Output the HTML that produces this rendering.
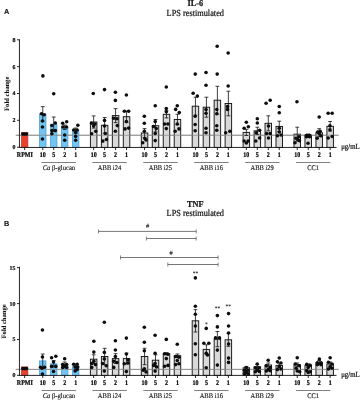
<!DOCTYPE html><html><head><meta charset="utf-8"><style>html,body{margin:0;padding:0;background:#fff;width:360px;height:400px;overflow:hidden}svg{display:block} text{text-rendering:geometricPrecision} .wrap{will-change:transform;opacity:0.999;filter:blur(0.3px)}</style></head><body>
<div class="wrap">
<svg width="360" height="400" viewBox="0 0 360 400">
<rect width="360" height="400" fill="#fff"/>
<line x1="15.80" y1="135.25" x2="338.50" y2="135.25" stroke="#8a8a8a" stroke-width="0.75"/>
<rect x="21.40" y="132.40" width="6.50" height="15.05" fill="#e8412f" stroke="#b8291c" stroke-width="0.6"/>
<rect x="39.50" y="113.90" width="6.50" height="33.55" fill="#74c4f2" stroke="#3d9ad8" stroke-width="0.7"/>
<rect x="50.47" y="124.20" width="6.50" height="23.25" fill="#74c4f2" stroke="#3d9ad8" stroke-width="0.7"/>
<rect x="61.44" y="127.20" width="6.50" height="20.25" fill="#74c4f2" stroke="#3d9ad8" stroke-width="0.7"/>
<rect x="72.41" y="130.50" width="6.50" height="16.95" fill="#74c4f2" stroke="#3d9ad8" stroke-width="0.7"/>
<rect x="90.40" y="122.00" width="6.50" height="25.45" fill="#d9d9d9" stroke="#151515" stroke-width="0.95"/>
<rect x="101.37" y="125.30" width="6.50" height="22.15" fill="#d9d9d9" stroke="#151515" stroke-width="0.95"/>
<rect x="112.34" y="115.60" width="6.50" height="31.85" fill="#d9d9d9" stroke="#151515" stroke-width="0.95"/>
<rect x="123.31" y="116.70" width="6.50" height="30.75" fill="#d9d9d9" stroke="#151515" stroke-width="0.95"/>
<rect x="141.30" y="133.00" width="6.50" height="14.45" fill="#d9d9d9" stroke="#151515" stroke-width="0.95"/>
<rect x="152.27" y="125.70" width="6.50" height="21.75" fill="#d9d9d9" stroke="#151515" stroke-width="0.95"/>
<rect x="163.24" y="114.30" width="6.50" height="33.15" fill="#d9d9d9" stroke="#151515" stroke-width="0.95"/>
<rect x="174.21" y="119.50" width="6.50" height="27.95" fill="#d9d9d9" stroke="#151515" stroke-width="0.95"/>
<rect x="192.20" y="106.20" width="6.50" height="41.25" fill="#d9d9d9" stroke="#151515" stroke-width="0.95"/>
<rect x="203.17" y="107.20" width="6.50" height="40.25" fill="#d9d9d9" stroke="#151515" stroke-width="0.95"/>
<rect x="214.14" y="100.20" width="6.50" height="47.25" fill="#d9d9d9" stroke="#151515" stroke-width="0.95"/>
<rect x="225.11" y="103.50" width="6.50" height="43.95" fill="#d9d9d9" stroke="#151515" stroke-width="0.95"/>
<rect x="243.10" y="132.40" width="6.50" height="15.05" fill="#d9d9d9" stroke="#151515" stroke-width="0.95"/>
<rect x="254.07" y="130.80" width="6.50" height="16.65" fill="#d9d9d9" stroke="#151515" stroke-width="0.95"/>
<rect x="265.04" y="123.30" width="6.50" height="24.15" fill="#d9d9d9" stroke="#151515" stroke-width="0.95"/>
<rect x="276.01" y="126.40" width="6.50" height="21.05" fill="#d9d9d9" stroke="#151515" stroke-width="0.95"/>
<rect x="294.00" y="134.20" width="6.50" height="13.25" fill="#d9d9d9" stroke="#151515" stroke-width="0.95"/>
<rect x="304.97" y="135.00" width="6.50" height="12.45" fill="#d9d9d9" stroke="#151515" stroke-width="0.95"/>
<rect x="315.94" y="132.70" width="6.50" height="14.75" fill="#d9d9d9" stroke="#151515" stroke-width="0.95"/>
<rect x="326.91" y="126.30" width="6.50" height="21.15" fill="#d9d9d9" stroke="#151515" stroke-width="0.95"/>
<line x1="15.80" y1="135.25" x2="338.50" y2="135.25" stroke="#8a8a8a" stroke-width="0.75"/>
<line x1="42.75" y1="106.60" x2="42.75" y2="121.20" stroke="#111" stroke-width="0.8"/>
<line x1="40.85" y1="106.60" x2="44.65" y2="106.60" stroke="#111" stroke-width="0.8"/>
<line x1="40.85" y1="121.20" x2="44.65" y2="121.20" stroke="#111" stroke-width="0.8"/>
<line x1="53.72" y1="117.00" x2="53.72" y2="131.40" stroke="#111" stroke-width="0.8"/>
<line x1="51.82" y1="117.00" x2="55.62" y2="117.00" stroke="#111" stroke-width="0.8"/>
<line x1="51.82" y1="131.40" x2="55.62" y2="131.40" stroke="#111" stroke-width="0.8"/>
<line x1="64.69" y1="125.00" x2="64.69" y2="129.40" stroke="#111" stroke-width="0.8"/>
<line x1="62.79" y1="125.00" x2="66.59" y2="125.00" stroke="#111" stroke-width="0.8"/>
<line x1="62.79" y1="129.40" x2="66.59" y2="129.40" stroke="#111" stroke-width="0.8"/>
<line x1="75.66" y1="128.00" x2="75.66" y2="133.00" stroke="#111" stroke-width="0.8"/>
<line x1="73.76" y1="128.00" x2="77.56" y2="128.00" stroke="#111" stroke-width="0.8"/>
<line x1="73.76" y1="133.00" x2="77.56" y2="133.00" stroke="#111" stroke-width="0.8"/>
<line x1="93.65" y1="115.90" x2="93.65" y2="128.10" stroke="#111" stroke-width="0.8"/>
<line x1="91.75" y1="115.90" x2="95.55" y2="115.90" stroke="#111" stroke-width="0.8"/>
<line x1="91.75" y1="128.10" x2="95.55" y2="128.10" stroke="#111" stroke-width="0.8"/>
<line x1="104.62" y1="117.50" x2="104.62" y2="133.10" stroke="#111" stroke-width="0.8"/>
<line x1="102.72" y1="117.50" x2="106.52" y2="117.50" stroke="#111" stroke-width="0.8"/>
<line x1="102.72" y1="133.10" x2="106.52" y2="133.10" stroke="#111" stroke-width="0.8"/>
<line x1="115.59" y1="108.60" x2="115.59" y2="122.60" stroke="#111" stroke-width="0.8"/>
<line x1="113.69" y1="108.60" x2="117.49" y2="108.60" stroke="#111" stroke-width="0.8"/>
<line x1="113.69" y1="122.60" x2="117.49" y2="122.60" stroke="#111" stroke-width="0.8"/>
<line x1="126.56" y1="111.00" x2="126.56" y2="122.40" stroke="#111" stroke-width="0.8"/>
<line x1="124.66" y1="111.00" x2="128.46" y2="111.00" stroke="#111" stroke-width="0.8"/>
<line x1="124.66" y1="122.40" x2="128.46" y2="122.40" stroke="#111" stroke-width="0.8"/>
<line x1="144.55" y1="128.60" x2="144.55" y2="137.40" stroke="#111" stroke-width="0.8"/>
<line x1="142.65" y1="128.60" x2="146.45" y2="128.60" stroke="#111" stroke-width="0.8"/>
<line x1="142.65" y1="137.40" x2="146.45" y2="137.40" stroke="#111" stroke-width="0.8"/>
<line x1="155.52" y1="119.50" x2="155.52" y2="131.90" stroke="#111" stroke-width="0.8"/>
<line x1="153.62" y1="119.50" x2="157.42" y2="119.50" stroke="#111" stroke-width="0.8"/>
<line x1="153.62" y1="131.90" x2="157.42" y2="131.90" stroke="#111" stroke-width="0.8"/>
<line x1="166.49" y1="110.70" x2="166.49" y2="117.90" stroke="#111" stroke-width="0.8"/>
<line x1="164.59" y1="110.70" x2="168.39" y2="110.70" stroke="#111" stroke-width="0.8"/>
<line x1="164.59" y1="117.90" x2="168.39" y2="117.90" stroke="#111" stroke-width="0.8"/>
<line x1="177.46" y1="114.30" x2="177.46" y2="124.70" stroke="#111" stroke-width="0.8"/>
<line x1="175.56" y1="114.30" x2="179.36" y2="114.30" stroke="#111" stroke-width="0.8"/>
<line x1="175.56" y1="124.70" x2="179.36" y2="124.70" stroke="#111" stroke-width="0.8"/>
<line x1="195.45" y1="97.20" x2="195.45" y2="115.20" stroke="#111" stroke-width="0.8"/>
<line x1="193.55" y1="97.20" x2="197.35" y2="97.20" stroke="#111" stroke-width="0.8"/>
<line x1="193.55" y1="115.20" x2="197.35" y2="115.20" stroke="#111" stroke-width="0.8"/>
<line x1="206.42" y1="97.20" x2="206.42" y2="117.20" stroke="#111" stroke-width="0.8"/>
<line x1="204.52" y1="97.20" x2="208.32" y2="97.20" stroke="#111" stroke-width="0.8"/>
<line x1="204.52" y1="117.20" x2="208.32" y2="117.20" stroke="#111" stroke-width="0.8"/>
<line x1="217.39" y1="86.30" x2="217.39" y2="114.10" stroke="#111" stroke-width="0.8"/>
<line x1="215.49" y1="86.30" x2="219.29" y2="86.30" stroke="#111" stroke-width="0.8"/>
<line x1="215.49" y1="114.10" x2="219.29" y2="114.10" stroke="#111" stroke-width="0.8"/>
<line x1="228.36" y1="91.20" x2="228.36" y2="115.80" stroke="#111" stroke-width="0.8"/>
<line x1="226.46" y1="91.20" x2="230.26" y2="91.20" stroke="#111" stroke-width="0.8"/>
<line x1="226.46" y1="115.80" x2="230.26" y2="115.80" stroke="#111" stroke-width="0.8"/>
<line x1="246.35" y1="129.30" x2="246.35" y2="135.50" stroke="#111" stroke-width="0.8"/>
<line x1="244.45" y1="129.30" x2="248.25" y2="129.30" stroke="#111" stroke-width="0.8"/>
<line x1="244.45" y1="135.50" x2="248.25" y2="135.50" stroke="#111" stroke-width="0.8"/>
<line x1="257.32" y1="127.20" x2="257.32" y2="134.40" stroke="#111" stroke-width="0.8"/>
<line x1="255.42" y1="127.20" x2="259.22" y2="127.20" stroke="#111" stroke-width="0.8"/>
<line x1="255.42" y1="134.40" x2="259.22" y2="134.40" stroke="#111" stroke-width="0.8"/>
<line x1="268.29" y1="115.80" x2="268.29" y2="130.80" stroke="#111" stroke-width="0.8"/>
<line x1="266.39" y1="115.80" x2="270.19" y2="115.80" stroke="#111" stroke-width="0.8"/>
<line x1="266.39" y1="130.80" x2="270.19" y2="130.80" stroke="#111" stroke-width="0.8"/>
<line x1="279.26" y1="121.20" x2="279.26" y2="131.60" stroke="#111" stroke-width="0.8"/>
<line x1="277.36" y1="121.20" x2="281.16" y2="121.20" stroke="#111" stroke-width="0.8"/>
<line x1="277.36" y1="131.60" x2="281.16" y2="131.60" stroke="#111" stroke-width="0.8"/>
<line x1="297.25" y1="127.20" x2="297.25" y2="141.20" stroke="#111" stroke-width="0.8"/>
<line x1="295.35" y1="127.20" x2="299.15" y2="127.20" stroke="#111" stroke-width="0.8"/>
<line x1="295.35" y1="141.20" x2="299.15" y2="141.20" stroke="#111" stroke-width="0.8"/>
<line x1="308.22" y1="134.00" x2="308.22" y2="136.00" stroke="#111" stroke-width="0.8"/>
<line x1="306.32" y1="134.00" x2="310.12" y2="134.00" stroke="#111" stroke-width="0.8"/>
<line x1="306.32" y1="136.00" x2="310.12" y2="136.00" stroke="#111" stroke-width="0.8"/>
<line x1="319.19" y1="128.70" x2="319.19" y2="136.70" stroke="#111" stroke-width="0.8"/>
<line x1="317.29" y1="128.70" x2="321.09" y2="128.70" stroke="#111" stroke-width="0.8"/>
<line x1="317.29" y1="136.70" x2="321.09" y2="136.70" stroke="#111" stroke-width="0.8"/>
<line x1="330.16" y1="121.50" x2="330.16" y2="131.10" stroke="#111" stroke-width="0.8"/>
<line x1="328.26" y1="121.50" x2="332.06" y2="121.50" stroke="#111" stroke-width="0.8"/>
<line x1="328.26" y1="131.10" x2="332.06" y2="131.10" stroke="#111" stroke-width="0.8"/>
<circle cx="22.85" cy="134.10" r="1.8" fill="#0d0d0d"/>
<circle cx="24.65" cy="134.10" r="1.8" fill="#0d0d0d"/>
<circle cx="26.45" cy="134.10" r="1.8" fill="#0d0d0d"/>
<circle cx="42.90" cy="75.90" r="1.8" fill="#0d0d0d"/>
<circle cx="41.55" cy="113.80" r="1.8" fill="#0d0d0d"/>
<circle cx="44.15" cy="114.70" r="1.8" fill="#0d0d0d"/>
<circle cx="42.45" cy="121.00" r="1.8" fill="#0d0d0d"/>
<circle cx="42.45" cy="127.00" r="1.8" fill="#0d0d0d"/>
<circle cx="42.45" cy="139.00" r="1.8" fill="#0d0d0d"/>
<circle cx="53.72" cy="93.70" r="1.8" fill="#0d0d0d"/>
<circle cx="51.92" cy="125.50" r="1.8" fill="#0d0d0d"/>
<circle cx="55.32" cy="123.00" r="1.8" fill="#0d0d0d"/>
<circle cx="51.92" cy="130.60" r="1.8" fill="#0d0d0d"/>
<circle cx="55.32" cy="130.60" r="1.8" fill="#0d0d0d"/>
<circle cx="51.92" cy="133.80" r="1.8" fill="#0d0d0d"/>
<circle cx="62.69" cy="123.30" r="1.8" fill="#0d0d0d"/>
<circle cx="66.69" cy="121.70" r="1.8" fill="#0d0d0d"/>
<circle cx="62.89" cy="127.00" r="1.8" fill="#0d0d0d"/>
<circle cx="66.49" cy="127.00" r="1.8" fill="#0d0d0d"/>
<circle cx="64.69" cy="135.00" r="1.8" fill="#0d0d0d"/>
<circle cx="64.69" cy="140.20" r="1.8" fill="#0d0d0d"/>
<circle cx="73.76" cy="130.00" r="1.8" fill="#0d0d0d"/>
<circle cx="77.86" cy="125.30" r="1.8" fill="#0d0d0d"/>
<circle cx="77.16" cy="130.00" r="1.8" fill="#0d0d0d"/>
<circle cx="75.66" cy="132.60" r="1.8" fill="#0d0d0d"/>
<circle cx="75.66" cy="136.40" r="1.8" fill="#0d0d0d"/>
<circle cx="75.66" cy="140.20" r="1.8" fill="#0d0d0d"/>
<circle cx="93.25" cy="93.50" r="1.8" fill="#0d0d0d"/>
<circle cx="91.65" cy="123.20" r="1.8" fill="#0d0d0d"/>
<circle cx="94.95" cy="124.00" r="1.8" fill="#0d0d0d"/>
<circle cx="95.75" cy="131.30" r="1.8" fill="#0d0d0d"/>
<circle cx="91.65" cy="133.80" r="1.8" fill="#0d0d0d"/>
<circle cx="93.65" cy="126.00" r="1.8" fill="#0d0d0d"/>
<circle cx="104.52" cy="89.60" r="1.8" fill="#0d0d0d"/>
<circle cx="104.52" cy="120.40" r="1.8" fill="#0d0d0d"/>
<circle cx="105.32" cy="133.50" r="1.8" fill="#0d0d0d"/>
<circle cx="102.82" cy="141.10" r="1.8" fill="#0d0d0d"/>
<circle cx="106.42" cy="139.50" r="1.8" fill="#0d0d0d"/>
<circle cx="104.52" cy="126.00" r="1.8" fill="#0d0d0d"/>
<circle cx="115.39" cy="92.30" r="1.8" fill="#0d0d0d"/>
<circle cx="115.39" cy="100.40" r="1.8" fill="#0d0d0d"/>
<circle cx="113.69" cy="118.30" r="1.8" fill="#0d0d0d"/>
<circle cx="116.99" cy="118.80" r="1.8" fill="#0d0d0d"/>
<circle cx="117.29" cy="125.60" r="1.8" fill="#0d0d0d"/>
<circle cx="115.39" cy="131.30" r="1.8" fill="#0d0d0d"/>
<circle cx="126.36" cy="95.00" r="1.8" fill="#0d0d0d"/>
<circle cx="124.36" cy="111.30" r="1.8" fill="#0d0d0d"/>
<circle cx="128.66" cy="111.30" r="1.8" fill="#0d0d0d"/>
<circle cx="126.36" cy="121.60" r="1.8" fill="#0d0d0d"/>
<circle cx="125.06" cy="128.90" r="1.8" fill="#0d0d0d"/>
<circle cx="128.66" cy="128.10" r="1.8" fill="#0d0d0d"/>
<circle cx="144.35" cy="116.20" r="1.8" fill="#0d0d0d"/>
<circle cx="144.35" cy="123.20" r="1.8" fill="#0d0d0d"/>
<circle cx="144.35" cy="131.30" r="1.8" fill="#0d0d0d"/>
<circle cx="146.05" cy="140.00" r="1.8" fill="#0d0d0d"/>
<circle cx="142.75" cy="142.70" r="1.8" fill="#0d0d0d"/>
<circle cx="144.85" cy="138.50" r="1.8" fill="#0d0d0d"/>
<circle cx="155.22" cy="105.80" r="1.8" fill="#0d0d0d"/>
<circle cx="155.22" cy="121.60" r="1.8" fill="#0d0d0d"/>
<circle cx="156.22" cy="128.60" r="1.8" fill="#0d0d0d"/>
<circle cx="155.22" cy="133.50" r="1.8" fill="#0d0d0d"/>
<circle cx="155.22" cy="140.60" r="1.8" fill="#0d0d0d"/>
<circle cx="153.52" cy="126.50" r="1.8" fill="#0d0d0d"/>
<circle cx="166.29" cy="87.00" r="1.8" fill="#0d0d0d"/>
<circle cx="166.29" cy="108.60" r="1.8" fill="#0d0d0d"/>
<circle cx="166.29" cy="111.80" r="1.8" fill="#0d0d0d"/>
<circle cx="164.59" cy="124.00" r="1.8" fill="#0d0d0d"/>
<circle cx="167.89" cy="124.00" r="1.8" fill="#0d0d0d"/>
<circle cx="166.29" cy="128.60" r="1.8" fill="#0d0d0d"/>
<circle cx="177.26" cy="105.80" r="1.8" fill="#0d0d0d"/>
<circle cx="175.66" cy="109.40" r="1.8" fill="#0d0d0d"/>
<circle cx="179.26" cy="112.60" r="1.8" fill="#0d0d0d"/>
<circle cx="177.26" cy="124.00" r="1.8" fill="#0d0d0d"/>
<circle cx="175.16" cy="131.30" r="1.8" fill="#0d0d0d"/>
<circle cx="178.96" cy="128.90" r="1.8" fill="#0d0d0d"/>
<circle cx="195.25" cy="74.10" r="1.8" fill="#0d0d0d"/>
<circle cx="193.15" cy="93.20" r="1.8" fill="#0d0d0d"/>
<circle cx="197.35" cy="96.10" r="1.8" fill="#0d0d0d"/>
<circle cx="195.15" cy="116.20" r="1.8" fill="#0d0d0d"/>
<circle cx="195.15" cy="124.50" r="1.8" fill="#0d0d0d"/>
<circle cx="195.15" cy="130.80" r="1.8" fill="#0d0d0d"/>
<circle cx="206.02" cy="72.50" r="1.8" fill="#0d0d0d"/>
<circle cx="206.02" cy="85.20" r="1.8" fill="#0d0d0d"/>
<circle cx="206.02" cy="109.50" r="1.8" fill="#0d0d0d"/>
<circle cx="206.02" cy="113.20" r="1.8" fill="#0d0d0d"/>
<circle cx="206.02" cy="128.20" r="1.8" fill="#0d0d0d"/>
<circle cx="206.02" cy="132.70" r="1.8" fill="#0d0d0d"/>
<circle cx="217.19" cy="46.20" r="1.8" fill="#0d0d0d"/>
<circle cx="217.19" cy="74.10" r="1.8" fill="#0d0d0d"/>
<circle cx="216.79" cy="109.50" r="1.8" fill="#0d0d0d"/>
<circle cx="216.79" cy="113.70" r="1.8" fill="#0d0d0d"/>
<circle cx="216.79" cy="125.70" r="1.8" fill="#0d0d0d"/>
<circle cx="216.79" cy="130.20" r="1.8" fill="#0d0d0d"/>
<circle cx="228.16" cy="53.00" r="1.8" fill="#0d0d0d"/>
<circle cx="228.16" cy="86.00" r="1.8" fill="#0d0d0d"/>
<circle cx="227.56" cy="106.50" r="1.8" fill="#0d0d0d"/>
<circle cx="227.56" cy="109.50" r="1.8" fill="#0d0d0d"/>
<circle cx="225.66" cy="132.70" r="1.8" fill="#0d0d0d"/>
<circle cx="229.86" cy="131.20" r="1.8" fill="#0d0d0d"/>
<circle cx="246.35" cy="122.20" r="1.8" fill="#0d0d0d"/>
<circle cx="244.15" cy="128.20" r="1.8" fill="#0d0d0d"/>
<circle cx="248.35" cy="126.70" r="1.8" fill="#0d0d0d"/>
<circle cx="244.15" cy="141.00" r="1.8" fill="#0d0d0d"/>
<circle cx="248.15" cy="141.00" r="1.8" fill="#0d0d0d"/>
<circle cx="246.35" cy="143.00" r="1.8" fill="#0d0d0d"/>
<circle cx="257.32" cy="118.80" r="1.8" fill="#0d0d0d"/>
<circle cx="257.32" cy="123.00" r="1.8" fill="#0d0d0d"/>
<circle cx="256.32" cy="132.70" r="1.8" fill="#0d0d0d"/>
<circle cx="259.62" cy="130.20" r="1.8" fill="#0d0d0d"/>
<circle cx="259.62" cy="138.00" r="1.8" fill="#0d0d0d"/>
<circle cx="255.82" cy="141.00" r="1.8" fill="#0d0d0d"/>
<circle cx="266.09" cy="103.20" r="1.8" fill="#0d0d0d"/>
<circle cx="270.19" cy="100.20" r="1.8" fill="#0d0d0d"/>
<circle cx="268.49" cy="126.00" r="1.8" fill="#0d0d0d"/>
<circle cx="266.59" cy="133.50" r="1.8" fill="#0d0d0d"/>
<circle cx="270.09" cy="133.50" r="1.8" fill="#0d0d0d"/>
<circle cx="268.49" cy="138.00" r="1.8" fill="#0d0d0d"/>
<circle cx="279.26" cy="106.50" r="1.8" fill="#0d0d0d"/>
<circle cx="279.26" cy="112.80" r="1.8" fill="#0d0d0d"/>
<circle cx="279.26" cy="128.20" r="1.8" fill="#0d0d0d"/>
<circle cx="277.46" cy="135.70" r="1.8" fill="#0d0d0d"/>
<circle cx="281.06" cy="135.00" r="1.8" fill="#0d0d0d"/>
<circle cx="279.26" cy="132.00" r="1.8" fill="#0d0d0d"/>
<circle cx="296.95" cy="101.70" r="1.8" fill="#0d0d0d"/>
<circle cx="295.95" cy="138.30" r="1.8" fill="#0d0d0d"/>
<circle cx="298.95" cy="136.70" r="1.8" fill="#0d0d0d"/>
<circle cx="299.45" cy="140.70" r="1.8" fill="#0d0d0d"/>
<circle cx="294.95" cy="142.70" r="1.8" fill="#0d0d0d"/>
<circle cx="297.75" cy="139.50" r="1.8" fill="#0d0d0d"/>
<circle cx="306.52" cy="136.80" r="1.8" fill="#0d0d0d"/>
<circle cx="309.52" cy="136.80" r="1.8" fill="#0d0d0d"/>
<circle cx="308.02" cy="143.20" r="1.8" fill="#0d0d0d"/>
<circle cx="308.02" cy="135.70" r="1.8" fill="#0d0d0d"/>
<circle cx="306.52" cy="135.50" r="1.8" fill="#0d0d0d"/>
<circle cx="309.52" cy="135.50" r="1.8" fill="#0d0d0d"/>
<circle cx="319.19" cy="117.00" r="1.8" fill="#0d0d0d"/>
<circle cx="320.19" cy="131.20" r="1.8" fill="#0d0d0d"/>
<circle cx="317.19" cy="138.30" r="1.8" fill="#0d0d0d"/>
<circle cx="320.99" cy="135.70" r="1.8" fill="#0d0d0d"/>
<circle cx="319.19" cy="133.50" r="1.8" fill="#0d0d0d"/>
<circle cx="317.69" cy="132.00" r="1.8" fill="#0d0d0d"/>
<circle cx="328.16" cy="113.20" r="1.8" fill="#0d0d0d"/>
<circle cx="332.16" cy="113.20" r="1.8" fill="#0d0d0d"/>
<circle cx="329.96" cy="125.70" r="1.8" fill="#0d0d0d"/>
<circle cx="329.96" cy="129.70" r="1.8" fill="#0d0d0d"/>
<circle cx="328.16" cy="138.00" r="1.8" fill="#0d0d0d"/>
<circle cx="332.16" cy="136.50" r="1.8" fill="#0d0d0d"/>
<line x1="19.45" y1="39.25" x2="19.45" y2="147.95" stroke="#1a1a1a" stroke-width="0.95"/>
<line x1="18.95" y1="147.45" x2="336.50" y2="147.45" stroke="#1a1a1a" stroke-width="0.95"/>
<line x1="17.00" y1="39.80" x2="19.45" y2="39.80" stroke="#111" stroke-width="0.9"/>
<text x="15.50" y="41.75" font-family='"Liberation Serif", serif' font-size="5.9" font-weight="bold" font-style="normal" text-anchor="end" fill="#111" stroke="#111" stroke-width="0.22" >8</text>
<line x1="17.00" y1="66.60" x2="19.45" y2="66.60" stroke="#111" stroke-width="0.9"/>
<text x="15.50" y="68.55" font-family='"Liberation Serif", serif' font-size="5.9" font-weight="bold" font-style="normal" text-anchor="end" fill="#111" stroke="#111" stroke-width="0.22" >6</text>
<line x1="17.00" y1="93.50" x2="19.45" y2="93.50" stroke="#111" stroke-width="0.9"/>
<text x="15.50" y="95.45" font-family='"Liberation Serif", serif' font-size="5.9" font-weight="bold" font-style="normal" text-anchor="end" fill="#111" stroke="#111" stroke-width="0.22" >4</text>
<line x1="17.00" y1="120.30" x2="19.45" y2="120.30" stroke="#111" stroke-width="0.9"/>
<text x="15.50" y="122.25" font-family='"Liberation Serif", serif' font-size="5.9" font-weight="bold" font-style="normal" text-anchor="end" fill="#111" stroke="#111" stroke-width="0.22" >2</text>
<line x1="17.00" y1="147.20" x2="19.45" y2="147.20" stroke="#111" stroke-width="0.9"/>
<text x="15.50" y="149.15" font-family='"Liberation Serif", serif' font-size="5.9" font-weight="bold" font-style="normal" text-anchor="end" fill="#111" stroke="#111" stroke-width="0.22" >0</text>
<line x1="42.75" y1="147.45" x2="42.75" y2="150.05" stroke="#111" stroke-width="0.9"/>
<line x1="53.72" y1="147.45" x2="53.72" y2="150.05" stroke="#111" stroke-width="0.9"/>
<line x1="64.69" y1="147.45" x2="64.69" y2="150.05" stroke="#111" stroke-width="0.9"/>
<line x1="75.66" y1="147.45" x2="75.66" y2="150.05" stroke="#111" stroke-width="0.9"/>
<line x1="93.65" y1="147.45" x2="93.65" y2="150.05" stroke="#111" stroke-width="0.9"/>
<line x1="104.62" y1="147.45" x2="104.62" y2="150.05" stroke="#111" stroke-width="0.9"/>
<line x1="115.59" y1="147.45" x2="115.59" y2="150.05" stroke="#111" stroke-width="0.9"/>
<line x1="126.56" y1="147.45" x2="126.56" y2="150.05" stroke="#111" stroke-width="0.9"/>
<line x1="144.55" y1="147.45" x2="144.55" y2="150.05" stroke="#111" stroke-width="0.9"/>
<line x1="155.52" y1="147.45" x2="155.52" y2="150.05" stroke="#111" stroke-width="0.9"/>
<line x1="166.49" y1="147.45" x2="166.49" y2="150.05" stroke="#111" stroke-width="0.9"/>
<line x1="177.46" y1="147.45" x2="177.46" y2="150.05" stroke="#111" stroke-width="0.9"/>
<line x1="195.45" y1="147.45" x2="195.45" y2="150.05" stroke="#111" stroke-width="0.9"/>
<line x1="206.42" y1="147.45" x2="206.42" y2="150.05" stroke="#111" stroke-width="0.9"/>
<line x1="217.39" y1="147.45" x2="217.39" y2="150.05" stroke="#111" stroke-width="0.9"/>
<line x1="228.36" y1="147.45" x2="228.36" y2="150.05" stroke="#111" stroke-width="0.9"/>
<line x1="246.35" y1="147.45" x2="246.35" y2="150.05" stroke="#111" stroke-width="0.9"/>
<line x1="257.32" y1="147.45" x2="257.32" y2="150.05" stroke="#111" stroke-width="0.9"/>
<line x1="268.29" y1="147.45" x2="268.29" y2="150.05" stroke="#111" stroke-width="0.9"/>
<line x1="279.26" y1="147.45" x2="279.26" y2="150.05" stroke="#111" stroke-width="0.9"/>
<line x1="297.25" y1="147.45" x2="297.25" y2="150.05" stroke="#111" stroke-width="0.9"/>
<line x1="308.22" y1="147.45" x2="308.22" y2="150.05" stroke="#111" stroke-width="0.9"/>
<line x1="319.19" y1="147.45" x2="319.19" y2="150.05" stroke="#111" stroke-width="0.9"/>
<line x1="330.16" y1="147.45" x2="330.16" y2="150.05" stroke="#111" stroke-width="0.9"/>
<line x1="24.65" y1="147.45" x2="24.65" y2="150.05" stroke="#111" stroke-width="0.9"/>
<text x="0.00" y="0.00" font-family='"Liberation Serif", serif' font-size="6" font-weight="bold" font-style="normal" text-anchor="middle" fill="#000" stroke="#000" stroke-width="0.18" transform="translate(24.85,156.80) scale(1,1.2)">RPMI</text>
<text x="0.00" y="0.00" font-family='"Liberation Serif", serif' font-size="6" font-weight="bold" font-style="normal" text-anchor="middle" fill="#000" stroke="#000" stroke-width="0.18" transform="translate(42.75,156.80) scale(1,1.2)">10</text>
<text x="0.00" y="0.00" font-family='"Liberation Serif", serif' font-size="6" font-weight="bold" font-style="normal" text-anchor="middle" fill="#000" stroke="#000" stroke-width="0.18" transform="translate(53.72,156.80) scale(1,1.2)">5</text>
<text x="0.00" y="0.00" font-family='"Liberation Serif", serif' font-size="6" font-weight="bold" font-style="normal" text-anchor="middle" fill="#000" stroke="#000" stroke-width="0.18" transform="translate(64.69,156.80) scale(1,1.2)">2</text>
<text x="0.00" y="0.00" font-family='"Liberation Serif", serif' font-size="6" font-weight="bold" font-style="normal" text-anchor="middle" fill="#000" stroke="#000" stroke-width="0.18" transform="translate(75.66,156.80) scale(1,1.2)">1</text>
<text x="0.00" y="0.00" font-family='"Liberation Serif", serif' font-size="6" font-weight="bold" font-style="normal" text-anchor="middle" fill="#000" stroke="#000" stroke-width="0.18" transform="translate(93.65,156.80) scale(1,1.2)">10</text>
<text x="0.00" y="0.00" font-family='"Liberation Serif", serif' font-size="6" font-weight="bold" font-style="normal" text-anchor="middle" fill="#000" stroke="#000" stroke-width="0.18" transform="translate(104.62,156.80) scale(1,1.2)">5</text>
<text x="0.00" y="0.00" font-family='"Liberation Serif", serif' font-size="6" font-weight="bold" font-style="normal" text-anchor="middle" fill="#000" stroke="#000" stroke-width="0.18" transform="translate(115.59,156.80) scale(1,1.2)">2</text>
<text x="0.00" y="0.00" font-family='"Liberation Serif", serif' font-size="6" font-weight="bold" font-style="normal" text-anchor="middle" fill="#000" stroke="#000" stroke-width="0.18" transform="translate(126.56,156.80) scale(1,1.2)">1</text>
<text x="0.00" y="0.00" font-family='"Liberation Serif", serif' font-size="6" font-weight="bold" font-style="normal" text-anchor="middle" fill="#000" stroke="#000" stroke-width="0.18" transform="translate(144.55,156.80) scale(1,1.2)">10</text>
<text x="0.00" y="0.00" font-family='"Liberation Serif", serif' font-size="6" font-weight="bold" font-style="normal" text-anchor="middle" fill="#000" stroke="#000" stroke-width="0.18" transform="translate(155.52,156.80) scale(1,1.2)">5</text>
<text x="0.00" y="0.00" font-family='"Liberation Serif", serif' font-size="6" font-weight="bold" font-style="normal" text-anchor="middle" fill="#000" stroke="#000" stroke-width="0.18" transform="translate(166.49,156.80) scale(1,1.2)">2</text>
<text x="0.00" y="0.00" font-family='"Liberation Serif", serif' font-size="6" font-weight="bold" font-style="normal" text-anchor="middle" fill="#000" stroke="#000" stroke-width="0.18" transform="translate(177.46,156.80) scale(1,1.2)">1</text>
<text x="0.00" y="0.00" font-family='"Liberation Serif", serif' font-size="6" font-weight="bold" font-style="normal" text-anchor="middle" fill="#000" stroke="#000" stroke-width="0.18" transform="translate(195.45,156.80) scale(1,1.2)">10</text>
<text x="0.00" y="0.00" font-family='"Liberation Serif", serif' font-size="6" font-weight="bold" font-style="normal" text-anchor="middle" fill="#000" stroke="#000" stroke-width="0.18" transform="translate(206.42,156.80) scale(1,1.2)">5</text>
<text x="0.00" y="0.00" font-family='"Liberation Serif", serif' font-size="6" font-weight="bold" font-style="normal" text-anchor="middle" fill="#000" stroke="#000" stroke-width="0.18" transform="translate(217.39,156.80) scale(1,1.2)">2</text>
<text x="0.00" y="0.00" font-family='"Liberation Serif", serif' font-size="6" font-weight="bold" font-style="normal" text-anchor="middle" fill="#000" stroke="#000" stroke-width="0.18" transform="translate(228.36,156.80) scale(1,1.2)">1</text>
<text x="0.00" y="0.00" font-family='"Liberation Serif", serif' font-size="6" font-weight="bold" font-style="normal" text-anchor="middle" fill="#000" stroke="#000" stroke-width="0.18" transform="translate(246.35,156.80) scale(1,1.2)">10</text>
<text x="0.00" y="0.00" font-family='"Liberation Serif", serif' font-size="6" font-weight="bold" font-style="normal" text-anchor="middle" fill="#000" stroke="#000" stroke-width="0.18" transform="translate(257.32,156.80) scale(1,1.2)">5</text>
<text x="0.00" y="0.00" font-family='"Liberation Serif", serif' font-size="6" font-weight="bold" font-style="normal" text-anchor="middle" fill="#000" stroke="#000" stroke-width="0.18" transform="translate(268.29,156.80) scale(1,1.2)">2</text>
<text x="0.00" y="0.00" font-family='"Liberation Serif", serif' font-size="6" font-weight="bold" font-style="normal" text-anchor="middle" fill="#000" stroke="#000" stroke-width="0.18" transform="translate(279.26,156.80) scale(1,1.2)">1</text>
<text x="0.00" y="0.00" font-family='"Liberation Serif", serif' font-size="6" font-weight="bold" font-style="normal" text-anchor="middle" fill="#000" stroke="#000" stroke-width="0.18" transform="translate(297.25,156.80) scale(1,1.2)">10</text>
<text x="0.00" y="0.00" font-family='"Liberation Serif", serif' font-size="6" font-weight="bold" font-style="normal" text-anchor="middle" fill="#000" stroke="#000" stroke-width="0.18" transform="translate(308.22,156.80) scale(1,1.2)">5</text>
<text x="0.00" y="0.00" font-family='"Liberation Serif", serif' font-size="6" font-weight="bold" font-style="normal" text-anchor="middle" fill="#000" stroke="#000" stroke-width="0.18" transform="translate(319.19,156.80) scale(1,1.2)">2</text>
<text x="0.00" y="0.00" font-family='"Liberation Serif", serif' font-size="6" font-weight="bold" font-style="normal" text-anchor="middle" fill="#000" stroke="#000" stroke-width="0.18" transform="translate(330.16,156.80) scale(1,1.2)">1</text>
<line x1="41.50" y1="162.50" x2="75.91" y2="162.50" stroke="#4a4a4a" stroke-width="0.7"/>
<text x="0.00" y="0.00" font-family='"Liberation Serif", serif' font-size="6.6" font-weight="normal" font-style="normal" text-anchor="middle" fill="#111" stroke="#111" stroke-width="0.12" transform="translate(58.90,170.20) scale(1,1.08)"><tspan font-style="italic">Ca</tspan> β-glucan</text>
<line x1="92.40" y1="162.50" x2="126.81" y2="162.50" stroke="#4a4a4a" stroke-width="0.7"/>
<text x="0.00" y="0.00" font-family='"Liberation Serif", serif' font-size="6.5" font-weight="normal" font-style="normal" text-anchor="middle" fill="#111" stroke="#111" stroke-width="0.12" transform="translate(109.51,170.20) scale(1,1.08)">ABB i24</text>
<line x1="143.30" y1="162.50" x2="177.71" y2="162.50" stroke="#4a4a4a" stroke-width="0.7"/>
<text x="0.00" y="0.00" font-family='"Liberation Serif", serif' font-size="6.5" font-weight="normal" font-style="normal" text-anchor="middle" fill="#111" stroke="#111" stroke-width="0.12" transform="translate(160.41,170.20) scale(1,1.08)">ABB i25</text>
<line x1="194.20" y1="162.50" x2="228.61" y2="162.50" stroke="#4a4a4a" stroke-width="0.7"/>
<text x="0.00" y="0.00" font-family='"Liberation Serif", serif' font-size="6.5" font-weight="normal" font-style="normal" text-anchor="middle" fill="#111" stroke="#111" stroke-width="0.12" transform="translate(211.30,170.20) scale(1,1.08)">ABB i16</text>
<line x1="245.10" y1="162.50" x2="279.51" y2="162.50" stroke="#4a4a4a" stroke-width="0.7"/>
<text x="0.00" y="0.00" font-family='"Liberation Serif", serif' font-size="6.5" font-weight="normal" font-style="normal" text-anchor="middle" fill="#111" stroke="#111" stroke-width="0.12" transform="translate(262.20,170.20) scale(1,1.08)">ABB i29</text>
<line x1="296.00" y1="162.50" x2="330.41" y2="162.50" stroke="#4a4a4a" stroke-width="0.7"/>
<text x="0.00" y="0.00" font-family='"Liberation Serif", serif' font-size="6.5" font-weight="normal" font-style="normal" text-anchor="middle" fill="#111" stroke="#111" stroke-width="0.12" transform="translate(313.11,170.20) scale(1,1.08)">CC1</text>
<text x="0.00" y="0.00" font-family='"Liberation Serif", serif' font-size="6.8" font-weight="normal" font-style="normal" text-anchor="start" fill="#111" stroke="#111" stroke-width="0.2" transform="translate(341.20,148.95) scale(1,1.15)">μg/mL</text>
<text x="0.00" y="0.00" font-family='"Liberation Serif", serif' font-size="6.6" font-weight="bold" font-style="normal" text-anchor="middle" fill="#111" stroke="#111" stroke-width="0.06" transform="translate(9.1,93.8) rotate(-90)">Fold change</text>
<text x="0.00" y="0.00" font-family='"Liberation Serif", serif' font-size="8.2" font-weight="bold" font-style="normal" text-anchor="middle" fill="#111" stroke="#111" stroke-width="0.22" transform="translate(195.30,6.00) scale(1,1.1)">IL-6</text>
<text x="0.00" y="0.00" font-family='"Liberation Serif", serif' font-size="8.3" font-weight="normal" font-style="normal" text-anchor="middle" fill="#111" stroke="#111" stroke-width="0.2" transform="translate(195.30,15.60) scale(1,1.12)">LPS restimulated</text>
<text x="4.00" y="13.80" font-family='"Liberation Sans", sans-serif' font-size="7.3" font-weight="bold" font-style="normal" text-anchor="start" fill="#111" stroke="#111" stroke-width="0.1" >A</text>
<line x1="15.80" y1="369.40" x2="338.50" y2="369.40" stroke="#8a8a8a" stroke-width="0.75"/>
<rect x="21.40" y="366.90" width="6.50" height="8.50" fill="#e8412f" stroke="#b8291c" stroke-width="0.6"/>
<rect x="39.50" y="360.90" width="6.50" height="14.50" fill="#74c4f2" stroke="#3d9ad8" stroke-width="0.7"/>
<rect x="50.47" y="363.80" width="6.50" height="11.60" fill="#74c4f2" stroke="#3d9ad8" stroke-width="0.7"/>
<rect x="61.44" y="364.20" width="6.50" height="11.20" fill="#74c4f2" stroke="#3d9ad8" stroke-width="0.7"/>
<rect x="72.41" y="366.00" width="6.50" height="9.40" fill="#74c4f2" stroke="#3d9ad8" stroke-width="0.7"/>
<rect x="90.40" y="359.20" width="6.50" height="16.20" fill="#d9d9d9" stroke="#151515" stroke-width="0.95"/>
<rect x="101.37" y="356.50" width="6.50" height="18.90" fill="#d9d9d9" stroke="#151515" stroke-width="0.95"/>
<rect x="112.34" y="358.60" width="6.50" height="16.80" fill="#d9d9d9" stroke="#151515" stroke-width="0.95"/>
<rect x="123.31" y="358.60" width="6.50" height="16.80" fill="#d9d9d9" stroke="#151515" stroke-width="0.95"/>
<rect x="141.30" y="356.50" width="6.50" height="18.90" fill="#d9d9d9" stroke="#151515" stroke-width="0.95"/>
<rect x="152.27" y="360.20" width="6.50" height="15.20" fill="#d9d9d9" stroke="#151515" stroke-width="0.95"/>
<rect x="163.24" y="353.70" width="6.50" height="21.70" fill="#d9d9d9" stroke="#151515" stroke-width="0.95"/>
<rect x="174.21" y="355.70" width="6.50" height="19.70" fill="#d9d9d9" stroke="#151515" stroke-width="0.95"/>
<rect x="192.20" y="320.80" width="6.50" height="54.60" fill="#d9d9d9" stroke="#151515" stroke-width="0.95"/>
<rect x="203.17" y="349.40" width="6.50" height="26.00" fill="#d9d9d9" stroke="#151515" stroke-width="0.95"/>
<rect x="214.14" y="339.10" width="6.50" height="36.30" fill="#d9d9d9" stroke="#151515" stroke-width="0.95"/>
<rect x="225.11" y="339.80" width="6.50" height="35.60" fill="#d9d9d9" stroke="#151515" stroke-width="0.95"/>
<rect x="243.10" y="367.80" width="6.50" height="7.60" fill="#d9d9d9" stroke="#151515" stroke-width="0.95"/>
<rect x="254.07" y="366.80" width="6.50" height="8.60" fill="#d9d9d9" stroke="#151515" stroke-width="0.95"/>
<rect x="265.04" y="365.00" width="6.50" height="10.40" fill="#d9d9d9" stroke="#151515" stroke-width="0.95"/>
<rect x="276.01" y="365.40" width="6.50" height="10.00" fill="#d9d9d9" stroke="#151515" stroke-width="0.95"/>
<rect x="294.00" y="364.70" width="6.50" height="10.70" fill="#d9d9d9" stroke="#151515" stroke-width="0.95"/>
<rect x="304.97" y="365.40" width="6.50" height="10.00" fill="#d9d9d9" stroke="#151515" stroke-width="0.95"/>
<rect x="315.94" y="362.60" width="6.50" height="12.80" fill="#d9d9d9" stroke="#151515" stroke-width="0.95"/>
<rect x="326.91" y="364.00" width="6.50" height="11.40" fill="#d9d9d9" stroke="#151515" stroke-width="0.95"/>
<line x1="15.80" y1="369.40" x2="338.50" y2="369.40" stroke="#8a8a8a" stroke-width="0.75"/>
<line x1="42.75" y1="354.00" x2="42.75" y2="367.80" stroke="#111" stroke-width="0.8"/>
<line x1="40.85" y1="354.00" x2="44.65" y2="354.00" stroke="#111" stroke-width="0.8"/>
<line x1="40.85" y1="367.80" x2="44.65" y2="367.80" stroke="#111" stroke-width="0.8"/>
<line x1="53.72" y1="360.60" x2="53.72" y2="367.00" stroke="#111" stroke-width="0.8"/>
<line x1="51.82" y1="360.60" x2="55.62" y2="360.60" stroke="#111" stroke-width="0.8"/>
<line x1="51.82" y1="367.00" x2="55.62" y2="367.00" stroke="#111" stroke-width="0.8"/>
<line x1="64.69" y1="362.00" x2="64.69" y2="366.40" stroke="#111" stroke-width="0.8"/>
<line x1="62.79" y1="362.00" x2="66.59" y2="362.00" stroke="#111" stroke-width="0.8"/>
<line x1="62.79" y1="366.40" x2="66.59" y2="366.40" stroke="#111" stroke-width="0.8"/>
<line x1="75.66" y1="364.00" x2="75.66" y2="368.00" stroke="#111" stroke-width="0.8"/>
<line x1="73.76" y1="364.00" x2="77.56" y2="364.00" stroke="#111" stroke-width="0.8"/>
<line x1="73.76" y1="368.00" x2="77.56" y2="368.00" stroke="#111" stroke-width="0.8"/>
<line x1="93.65" y1="354.80" x2="93.65" y2="363.60" stroke="#111" stroke-width="0.8"/>
<line x1="91.75" y1="354.80" x2="95.55" y2="354.80" stroke="#111" stroke-width="0.8"/>
<line x1="91.75" y1="363.60" x2="95.55" y2="363.60" stroke="#111" stroke-width="0.8"/>
<line x1="104.62" y1="348.30" x2="104.62" y2="364.70" stroke="#111" stroke-width="0.8"/>
<line x1="102.72" y1="348.30" x2="106.52" y2="348.30" stroke="#111" stroke-width="0.8"/>
<line x1="102.72" y1="364.70" x2="106.52" y2="364.70" stroke="#111" stroke-width="0.8"/>
<line x1="115.59" y1="353.70" x2="115.59" y2="363.50" stroke="#111" stroke-width="0.8"/>
<line x1="113.69" y1="353.70" x2="117.49" y2="353.70" stroke="#111" stroke-width="0.8"/>
<line x1="113.69" y1="363.50" x2="117.49" y2="363.50" stroke="#111" stroke-width="0.8"/>
<line x1="126.56" y1="353.20" x2="126.56" y2="364.00" stroke="#111" stroke-width="0.8"/>
<line x1="124.66" y1="353.20" x2="128.46" y2="353.20" stroke="#111" stroke-width="0.8"/>
<line x1="124.66" y1="364.00" x2="128.46" y2="364.00" stroke="#111" stroke-width="0.8"/>
<line x1="144.55" y1="348.30" x2="144.55" y2="364.70" stroke="#111" stroke-width="0.8"/>
<line x1="142.65" y1="348.30" x2="146.45" y2="348.30" stroke="#111" stroke-width="0.8"/>
<line x1="142.65" y1="364.70" x2="146.45" y2="364.70" stroke="#111" stroke-width="0.8"/>
<line x1="155.52" y1="354.80" x2="155.52" y2="365.60" stroke="#111" stroke-width="0.8"/>
<line x1="153.62" y1="354.80" x2="157.42" y2="354.80" stroke="#111" stroke-width="0.8"/>
<line x1="153.62" y1="365.60" x2="157.42" y2="365.60" stroke="#111" stroke-width="0.8"/>
<line x1="166.49" y1="352.70" x2="166.49" y2="354.70" stroke="#111" stroke-width="0.8"/>
<line x1="164.59" y1="352.70" x2="168.39" y2="352.70" stroke="#111" stroke-width="0.8"/>
<line x1="164.59" y1="354.70" x2="168.39" y2="354.70" stroke="#111" stroke-width="0.8"/>
<line x1="177.46" y1="354.00" x2="177.46" y2="357.40" stroke="#111" stroke-width="0.8"/>
<line x1="175.56" y1="354.00" x2="179.36" y2="354.00" stroke="#111" stroke-width="0.8"/>
<line x1="175.56" y1="357.40" x2="179.36" y2="357.40" stroke="#111" stroke-width="0.8"/>
<line x1="195.45" y1="309.60" x2="195.45" y2="332.00" stroke="#111" stroke-width="0.8"/>
<line x1="193.55" y1="309.60" x2="197.35" y2="309.60" stroke="#111" stroke-width="0.8"/>
<line x1="193.55" y1="332.00" x2="197.35" y2="332.00" stroke="#111" stroke-width="0.8"/>
<line x1="206.42" y1="344.80" x2="206.42" y2="354.00" stroke="#111" stroke-width="0.8"/>
<line x1="204.52" y1="344.80" x2="208.32" y2="344.80" stroke="#111" stroke-width="0.8"/>
<line x1="204.52" y1="354.00" x2="208.32" y2="354.00" stroke="#111" stroke-width="0.8"/>
<line x1="217.39" y1="331.50" x2="217.39" y2="346.70" stroke="#111" stroke-width="0.8"/>
<line x1="215.49" y1="331.50" x2="219.29" y2="331.50" stroke="#111" stroke-width="0.8"/>
<line x1="215.49" y1="346.70" x2="219.29" y2="346.70" stroke="#111" stroke-width="0.8"/>
<line x1="228.36" y1="333.30" x2="228.36" y2="346.30" stroke="#111" stroke-width="0.8"/>
<line x1="226.46" y1="333.30" x2="230.26" y2="333.30" stroke="#111" stroke-width="0.8"/>
<line x1="226.46" y1="346.30" x2="230.26" y2="346.30" stroke="#111" stroke-width="0.8"/>
<line x1="246.35" y1="366.50" x2="246.35" y2="369.10" stroke="#111" stroke-width="0.8"/>
<line x1="244.45" y1="366.50" x2="248.25" y2="366.50" stroke="#111" stroke-width="0.8"/>
<line x1="244.45" y1="369.10" x2="248.25" y2="369.10" stroke="#111" stroke-width="0.8"/>
<line x1="257.32" y1="364.50" x2="257.32" y2="369.10" stroke="#111" stroke-width="0.8"/>
<line x1="255.42" y1="364.50" x2="259.22" y2="364.50" stroke="#111" stroke-width="0.8"/>
<line x1="255.42" y1="369.10" x2="259.22" y2="369.10" stroke="#111" stroke-width="0.8"/>
<line x1="268.29" y1="363.00" x2="268.29" y2="367.00" stroke="#111" stroke-width="0.8"/>
<line x1="266.39" y1="363.00" x2="270.19" y2="363.00" stroke="#111" stroke-width="0.8"/>
<line x1="266.39" y1="367.00" x2="270.19" y2="367.00" stroke="#111" stroke-width="0.8"/>
<line x1="279.26" y1="363.30" x2="279.26" y2="367.50" stroke="#111" stroke-width="0.8"/>
<line x1="277.36" y1="363.30" x2="281.16" y2="363.30" stroke="#111" stroke-width="0.8"/>
<line x1="277.36" y1="367.50" x2="281.16" y2="367.50" stroke="#111" stroke-width="0.8"/>
<line x1="297.25" y1="363.00" x2="297.25" y2="366.40" stroke="#111" stroke-width="0.8"/>
<line x1="295.35" y1="363.00" x2="299.15" y2="363.00" stroke="#111" stroke-width="0.8"/>
<line x1="295.35" y1="366.40" x2="299.15" y2="366.40" stroke="#111" stroke-width="0.8"/>
<line x1="308.22" y1="364.00" x2="308.22" y2="366.80" stroke="#111" stroke-width="0.8"/>
<line x1="306.32" y1="364.00" x2="310.12" y2="364.00" stroke="#111" stroke-width="0.8"/>
<line x1="306.32" y1="366.80" x2="310.12" y2="366.80" stroke="#111" stroke-width="0.8"/>
<line x1="319.19" y1="360.50" x2="319.19" y2="364.70" stroke="#111" stroke-width="0.8"/>
<line x1="317.29" y1="360.50" x2="321.09" y2="360.50" stroke="#111" stroke-width="0.8"/>
<line x1="317.29" y1="364.70" x2="321.09" y2="364.70" stroke="#111" stroke-width="0.8"/>
<line x1="330.16" y1="362.00" x2="330.16" y2="366.00" stroke="#111" stroke-width="0.8"/>
<line x1="328.26" y1="362.00" x2="332.06" y2="362.00" stroke="#111" stroke-width="0.8"/>
<line x1="328.26" y1="366.00" x2="332.06" y2="366.00" stroke="#111" stroke-width="0.8"/>
<circle cx="22.85" cy="368.60" r="1.8" fill="#0d0d0d"/>
<circle cx="24.65" cy="368.60" r="1.8" fill="#0d0d0d"/>
<circle cx="26.45" cy="368.60" r="1.8" fill="#0d0d0d"/>
<circle cx="42.45" cy="330.00" r="1.8" fill="#0d0d0d"/>
<circle cx="42.45" cy="357.00" r="1.8" fill="#0d0d0d"/>
<circle cx="40.55" cy="367.30" r="1.8" fill="#0d0d0d"/>
<circle cx="44.55" cy="367.30" r="1.8" fill="#0d0d0d"/>
<circle cx="41.95" cy="368.30" r="1.8" fill="#0d0d0d"/>
<circle cx="42.45" cy="374.00" r="1.8" fill="#0d0d0d"/>
<circle cx="51.62" cy="357.80" r="1.8" fill="#0d0d0d"/>
<circle cx="55.82" cy="356.20" r="1.8" fill="#0d0d0d"/>
<circle cx="53.52" cy="362.00" r="1.8" fill="#0d0d0d"/>
<circle cx="51.62" cy="366.40" r="1.8" fill="#0d0d0d"/>
<circle cx="55.82" cy="366.40" r="1.8" fill="#0d0d0d"/>
<circle cx="53.52" cy="371.50" r="1.8" fill="#0d0d0d"/>
<circle cx="64.69" cy="358.70" r="1.8" fill="#0d0d0d"/>
<circle cx="62.59" cy="364.50" r="1.8" fill="#0d0d0d"/>
<circle cx="66.59" cy="364.50" r="1.8" fill="#0d0d0d"/>
<circle cx="64.69" cy="366.40" r="1.8" fill="#0d0d0d"/>
<circle cx="62.69" cy="367.50" r="1.8" fill="#0d0d0d"/>
<circle cx="66.69" cy="367.50" r="1.8" fill="#0d0d0d"/>
<circle cx="73.66" cy="364.20" r="1.8" fill="#0d0d0d"/>
<circle cx="77.16" cy="364.20" r="1.8" fill="#0d0d0d"/>
<circle cx="75.16" cy="367.00" r="1.8" fill="#0d0d0d"/>
<circle cx="77.66" cy="367.00" r="1.8" fill="#0d0d0d"/>
<circle cx="75.16" cy="370.90" r="1.8" fill="#0d0d0d"/>
<circle cx="77.16" cy="369.50" r="1.8" fill="#0d0d0d"/>
<circle cx="93.85" cy="341.30" r="1.8" fill="#0d0d0d"/>
<circle cx="93.85" cy="352.10" r="1.8" fill="#0d0d0d"/>
<circle cx="91.75" cy="363.50" r="1.8" fill="#0d0d0d"/>
<circle cx="95.45" cy="364.60" r="1.8" fill="#0d0d0d"/>
<circle cx="91.75" cy="367.40" r="1.8" fill="#0d0d0d"/>
<circle cx="93.85" cy="361.30" r="1.8" fill="#0d0d0d"/>
<circle cx="104.32" cy="322.30" r="1.8" fill="#0d0d0d"/>
<circle cx="104.32" cy="352.40" r="1.8" fill="#0d0d0d"/>
<circle cx="104.32" cy="358.90" r="1.8" fill="#0d0d0d"/>
<circle cx="106.22" cy="365.70" r="1.8" fill="#0d0d0d"/>
<circle cx="102.62" cy="363.50" r="1.8" fill="#0d0d0d"/>
<circle cx="104.32" cy="371.10" r="1.8" fill="#0d0d0d"/>
<circle cx="115.39" cy="340.70" r="1.8" fill="#0d0d0d"/>
<circle cx="115.39" cy="350.00" r="1.8" fill="#0d0d0d"/>
<circle cx="115.39" cy="356.50" r="1.8" fill="#0d0d0d"/>
<circle cx="113.69" cy="361.30" r="1.8" fill="#0d0d0d"/>
<circle cx="116.99" cy="362.50" r="1.8" fill="#0d0d0d"/>
<circle cx="113.69" cy="367.40" r="1.8" fill="#0d0d0d"/>
<circle cx="126.36" cy="338.10" r="1.8" fill="#0d0d0d"/>
<circle cx="126.36" cy="354.00" r="1.8" fill="#0d0d0d"/>
<circle cx="128.06" cy="359.70" r="1.8" fill="#0d0d0d"/>
<circle cx="124.26" cy="363.80" r="1.8" fill="#0d0d0d"/>
<circle cx="126.36" cy="371.60" r="1.8" fill="#0d0d0d"/>
<circle cx="128.06" cy="363.00" r="1.8" fill="#0d0d0d"/>
<circle cx="144.35" cy="327.20" r="1.8" fill="#0d0d0d"/>
<circle cx="144.35" cy="342.30" r="1.8" fill="#0d0d0d"/>
<circle cx="144.35" cy="350.80" r="1.8" fill="#0d0d0d"/>
<circle cx="143.25" cy="370.30" r="1.8" fill="#0d0d0d"/>
<circle cx="146.05" cy="371.90" r="1.8" fill="#0d0d0d"/>
<circle cx="144.35" cy="368.70" r="1.8" fill="#0d0d0d"/>
<circle cx="155.12" cy="335.30" r="1.8" fill="#0d0d0d"/>
<circle cx="155.12" cy="353.20" r="1.8" fill="#0d0d0d"/>
<circle cx="153.72" cy="365.40" r="1.8" fill="#0d0d0d"/>
<circle cx="156.52" cy="367.00" r="1.8" fill="#0d0d0d"/>
<circle cx="155.12" cy="363.50" r="1.8" fill="#0d0d0d"/>
<circle cx="155.12" cy="371.10" r="1.8" fill="#0d0d0d"/>
<circle cx="166.29" cy="339.40" r="1.8" fill="#0d0d0d"/>
<circle cx="164.59" cy="353.70" r="1.8" fill="#0d0d0d"/>
<circle cx="167.89" cy="354.30" r="1.8" fill="#0d0d0d"/>
<circle cx="166.29" cy="358.60" r="1.8" fill="#0d0d0d"/>
<circle cx="164.59" cy="366.20" r="1.8" fill="#0d0d0d"/>
<circle cx="167.99" cy="365.40" r="1.8" fill="#0d0d0d"/>
<circle cx="177.26" cy="344.30" r="1.8" fill="#0d0d0d"/>
<circle cx="175.66" cy="356.50" r="1.8" fill="#0d0d0d"/>
<circle cx="178.96" cy="357.30" r="1.8" fill="#0d0d0d"/>
<circle cx="177.26" cy="360.50" r="1.8" fill="#0d0d0d"/>
<circle cx="175.66" cy="364.60" r="1.8" fill="#0d0d0d"/>
<circle cx="178.96" cy="363.80" r="1.8" fill="#0d0d0d"/>
<circle cx="195.35" cy="277.90" r="1.8" fill="#0d0d0d"/>
<circle cx="195.35" cy="306.20" r="1.8" fill="#0d0d0d"/>
<circle cx="195.35" cy="314.30" r="1.8" fill="#0d0d0d"/>
<circle cx="195.35" cy="326.00" r="1.8" fill="#0d0d0d"/>
<circle cx="195.35" cy="343.70" r="1.8" fill="#0d0d0d"/>
<circle cx="195.35" cy="354.70" r="1.8" fill="#0d0d0d"/>
<circle cx="206.22" cy="328.40" r="1.8" fill="#0d0d0d"/>
<circle cx="203.82" cy="343.30" r="1.8" fill="#0d0d0d"/>
<circle cx="208.82" cy="343.30" r="1.8" fill="#0d0d0d"/>
<circle cx="206.22" cy="353.20" r="1.8" fill="#0d0d0d"/>
<circle cx="207.42" cy="355.00" r="1.8" fill="#0d0d0d"/>
<circle cx="206.22" cy="367.70" r="1.8" fill="#0d0d0d"/>
<circle cx="217.39" cy="315.60" r="1.8" fill="#0d0d0d"/>
<circle cx="217.39" cy="326.90" r="1.8" fill="#0d0d0d"/>
<circle cx="215.49" cy="337.90" r="1.8" fill="#0d0d0d"/>
<circle cx="219.49" cy="337.90" r="1.8" fill="#0d0d0d"/>
<circle cx="217.39" cy="350.10" r="1.8" fill="#0d0d0d"/>
<circle cx="217.39" cy="365.10" r="1.8" fill="#0d0d0d"/>
<circle cx="228.56" cy="313.60" r="1.8" fill="#0d0d0d"/>
<circle cx="228.56" cy="326.00" r="1.8" fill="#0d0d0d"/>
<circle cx="228.56" cy="333.00" r="1.8" fill="#0d0d0d"/>
<circle cx="228.56" cy="344.00" r="1.8" fill="#0d0d0d"/>
<circle cx="228.56" cy="358.10" r="1.8" fill="#0d0d0d"/>
<circle cx="228.56" cy="362.40" r="1.8" fill="#0d0d0d"/>
<circle cx="246.25" cy="367.50" r="1.8" fill="#0d0d0d"/>
<circle cx="244.45" cy="370.30" r="1.8" fill="#0d0d0d"/>
<circle cx="248.05" cy="370.30" r="1.8" fill="#0d0d0d"/>
<circle cx="246.25" cy="372.40" r="1.8" fill="#0d0d0d"/>
<circle cx="244.45" cy="373.70" r="1.8" fill="#0d0d0d"/>
<circle cx="248.05" cy="373.70" r="1.8" fill="#0d0d0d"/>
<circle cx="257.22" cy="364.00" r="1.8" fill="#0d0d0d"/>
<circle cx="255.42" cy="367.80" r="1.8" fill="#0d0d0d"/>
<circle cx="259.02" cy="367.80" r="1.8" fill="#0d0d0d"/>
<circle cx="257.22" cy="370.30" r="1.8" fill="#0d0d0d"/>
<circle cx="255.32" cy="371.70" r="1.8" fill="#0d0d0d"/>
<circle cx="259.32" cy="371.50" r="1.8" fill="#0d0d0d"/>
<circle cx="268.19" cy="360.30" r="1.8" fill="#0d0d0d"/>
<circle cx="266.39" cy="365.80" r="1.8" fill="#0d0d0d"/>
<circle cx="270.29" cy="367.50" r="1.8" fill="#0d0d0d"/>
<circle cx="268.19" cy="369.60" r="1.8" fill="#0d0d0d"/>
<circle cx="266.39" cy="371.00" r="1.8" fill="#0d0d0d"/>
<circle cx="270.29" cy="370.80" r="1.8" fill="#0d0d0d"/>
<circle cx="279.26" cy="358.00" r="1.8" fill="#0d0d0d"/>
<circle cx="277.46" cy="361.70" r="1.8" fill="#0d0d0d"/>
<circle cx="280.96" cy="363.00" r="1.8" fill="#0d0d0d"/>
<circle cx="279.26" cy="366.40" r="1.8" fill="#0d0d0d"/>
<circle cx="277.46" cy="369.60" r="1.8" fill="#0d0d0d"/>
<circle cx="280.96" cy="369.00" r="1.8" fill="#0d0d0d"/>
<circle cx="297.25" cy="357.80" r="1.8" fill="#0d0d0d"/>
<circle cx="295.25" cy="364.00" r="1.8" fill="#0d0d0d"/>
<circle cx="299.25" cy="365.80" r="1.8" fill="#0d0d0d"/>
<circle cx="296.25" cy="368.20" r="1.8" fill="#0d0d0d"/>
<circle cx="297.25" cy="371.00" r="1.8" fill="#0d0d0d"/>
<circle cx="299.75" cy="371.70" r="1.8" fill="#0d0d0d"/>
<circle cx="306.72" cy="364.40" r="1.8" fill="#0d0d0d"/>
<circle cx="310.22" cy="365.40" r="1.8" fill="#0d0d0d"/>
<circle cx="308.22" cy="367.50" r="1.8" fill="#0d0d0d"/>
<circle cx="306.72" cy="370.60" r="1.8" fill="#0d0d0d"/>
<circle cx="310.22" cy="371.70" r="1.8" fill="#0d0d0d"/>
<circle cx="308.22" cy="372.40" r="1.8" fill="#0d0d0d"/>
<circle cx="319.39" cy="359.00" r="1.8" fill="#0d0d0d"/>
<circle cx="317.39" cy="362.80" r="1.8" fill="#0d0d0d"/>
<circle cx="320.99" cy="362.80" r="1.8" fill="#0d0d0d"/>
<circle cx="317.39" cy="364.60" r="1.8" fill="#0d0d0d"/>
<circle cx="320.99" cy="364.60" r="1.8" fill="#0d0d0d"/>
<circle cx="319.19" cy="363.50" r="1.8" fill="#0d0d0d"/>
<circle cx="330.16" cy="357.80" r="1.8" fill="#0d0d0d"/>
<circle cx="328.46" cy="362.20" r="1.8" fill="#0d0d0d"/>
<circle cx="331.96" cy="364.00" r="1.8" fill="#0d0d0d"/>
<circle cx="330.16" cy="366.80" r="1.8" fill="#0d0d0d"/>
<circle cx="328.46" cy="369.00" r="1.8" fill="#0d0d0d"/>
<circle cx="331.96" cy="368.30" r="1.8" fill="#0d0d0d"/>
<line x1="19.45" y1="266.75" x2="19.45" y2="375.90" stroke="#1a1a1a" stroke-width="0.95"/>
<line x1="18.95" y1="375.40" x2="336.50" y2="375.40" stroke="#1a1a1a" stroke-width="0.95"/>
<line x1="17.00" y1="267.60" x2="19.45" y2="267.60" stroke="#111" stroke-width="0.9"/>
<text x="15.50" y="269.55" font-family='"Liberation Serif", serif' font-size="5.9" font-weight="bold" font-style="normal" text-anchor="end" fill="#111" stroke="#111" stroke-width="0.22" >15</text>
<line x1="17.00" y1="303.60" x2="19.45" y2="303.60" stroke="#111" stroke-width="0.9"/>
<text x="15.50" y="305.55" font-family='"Liberation Serif", serif' font-size="5.9" font-weight="bold" font-style="normal" text-anchor="end" fill="#111" stroke="#111" stroke-width="0.22" >10</text>
<line x1="17.00" y1="339.50" x2="19.45" y2="339.50" stroke="#111" stroke-width="0.9"/>
<text x="15.50" y="341.45" font-family='"Liberation Serif", serif' font-size="5.9" font-weight="bold" font-style="normal" text-anchor="end" fill="#111" stroke="#111" stroke-width="0.22" >5</text>
<line x1="17.00" y1="375.30" x2="19.45" y2="375.30" stroke="#111" stroke-width="0.9"/>
<text x="15.50" y="377.25" font-family='"Liberation Serif", serif' font-size="5.9" font-weight="bold" font-style="normal" text-anchor="end" fill="#111" stroke="#111" stroke-width="0.22" >0</text>
<line x1="42.75" y1="375.40" x2="42.75" y2="378.00" stroke="#111" stroke-width="0.9"/>
<line x1="53.72" y1="375.40" x2="53.72" y2="378.00" stroke="#111" stroke-width="0.9"/>
<line x1="64.69" y1="375.40" x2="64.69" y2="378.00" stroke="#111" stroke-width="0.9"/>
<line x1="75.66" y1="375.40" x2="75.66" y2="378.00" stroke="#111" stroke-width="0.9"/>
<line x1="93.65" y1="375.40" x2="93.65" y2="378.00" stroke="#111" stroke-width="0.9"/>
<line x1="104.62" y1="375.40" x2="104.62" y2="378.00" stroke="#111" stroke-width="0.9"/>
<line x1="115.59" y1="375.40" x2="115.59" y2="378.00" stroke="#111" stroke-width="0.9"/>
<line x1="126.56" y1="375.40" x2="126.56" y2="378.00" stroke="#111" stroke-width="0.9"/>
<line x1="144.55" y1="375.40" x2="144.55" y2="378.00" stroke="#111" stroke-width="0.9"/>
<line x1="155.52" y1="375.40" x2="155.52" y2="378.00" stroke="#111" stroke-width="0.9"/>
<line x1="166.49" y1="375.40" x2="166.49" y2="378.00" stroke="#111" stroke-width="0.9"/>
<line x1="177.46" y1="375.40" x2="177.46" y2="378.00" stroke="#111" stroke-width="0.9"/>
<line x1="195.45" y1="375.40" x2="195.45" y2="378.00" stroke="#111" stroke-width="0.9"/>
<line x1="206.42" y1="375.40" x2="206.42" y2="378.00" stroke="#111" stroke-width="0.9"/>
<line x1="217.39" y1="375.40" x2="217.39" y2="378.00" stroke="#111" stroke-width="0.9"/>
<line x1="228.36" y1="375.40" x2="228.36" y2="378.00" stroke="#111" stroke-width="0.9"/>
<line x1="246.35" y1="375.40" x2="246.35" y2="378.00" stroke="#111" stroke-width="0.9"/>
<line x1="257.32" y1="375.40" x2="257.32" y2="378.00" stroke="#111" stroke-width="0.9"/>
<line x1="268.29" y1="375.40" x2="268.29" y2="378.00" stroke="#111" stroke-width="0.9"/>
<line x1="279.26" y1="375.40" x2="279.26" y2="378.00" stroke="#111" stroke-width="0.9"/>
<line x1="297.25" y1="375.40" x2="297.25" y2="378.00" stroke="#111" stroke-width="0.9"/>
<line x1="308.22" y1="375.40" x2="308.22" y2="378.00" stroke="#111" stroke-width="0.9"/>
<line x1="319.19" y1="375.40" x2="319.19" y2="378.00" stroke="#111" stroke-width="0.9"/>
<line x1="330.16" y1="375.40" x2="330.16" y2="378.00" stroke="#111" stroke-width="0.9"/>
<line x1="24.65" y1="375.40" x2="24.65" y2="378.00" stroke="#111" stroke-width="0.9"/>
<text x="0.00" y="0.00" font-family='"Liberation Serif", serif' font-size="6" font-weight="bold" font-style="normal" text-anchor="middle" fill="#000" stroke="#000" stroke-width="0.18" transform="translate(24.85,384.90) scale(1,1.2)">RPMI</text>
<text x="0.00" y="0.00" font-family='"Liberation Serif", serif' font-size="6" font-weight="bold" font-style="normal" text-anchor="middle" fill="#000" stroke="#000" stroke-width="0.18" transform="translate(42.75,384.90) scale(1,1.2)">10</text>
<text x="0.00" y="0.00" font-family='"Liberation Serif", serif' font-size="6" font-weight="bold" font-style="normal" text-anchor="middle" fill="#000" stroke="#000" stroke-width="0.18" transform="translate(53.72,384.90) scale(1,1.2)">5</text>
<text x="0.00" y="0.00" font-family='"Liberation Serif", serif' font-size="6" font-weight="bold" font-style="normal" text-anchor="middle" fill="#000" stroke="#000" stroke-width="0.18" transform="translate(64.69,384.90) scale(1,1.2)">2</text>
<text x="0.00" y="0.00" font-family='"Liberation Serif", serif' font-size="6" font-weight="bold" font-style="normal" text-anchor="middle" fill="#000" stroke="#000" stroke-width="0.18" transform="translate(75.66,384.90) scale(1,1.2)">1</text>
<text x="0.00" y="0.00" font-family='"Liberation Serif", serif' font-size="6" font-weight="bold" font-style="normal" text-anchor="middle" fill="#000" stroke="#000" stroke-width="0.18" transform="translate(93.65,384.90) scale(1,1.2)">10</text>
<text x="0.00" y="0.00" font-family='"Liberation Serif", serif' font-size="6" font-weight="bold" font-style="normal" text-anchor="middle" fill="#000" stroke="#000" stroke-width="0.18" transform="translate(104.62,384.90) scale(1,1.2)">5</text>
<text x="0.00" y="0.00" font-family='"Liberation Serif", serif' font-size="6" font-weight="bold" font-style="normal" text-anchor="middle" fill="#000" stroke="#000" stroke-width="0.18" transform="translate(115.59,384.90) scale(1,1.2)">2</text>
<text x="0.00" y="0.00" font-family='"Liberation Serif", serif' font-size="6" font-weight="bold" font-style="normal" text-anchor="middle" fill="#000" stroke="#000" stroke-width="0.18" transform="translate(126.56,384.90) scale(1,1.2)">1</text>
<text x="0.00" y="0.00" font-family='"Liberation Serif", serif' font-size="6" font-weight="bold" font-style="normal" text-anchor="middle" fill="#000" stroke="#000" stroke-width="0.18" transform="translate(144.55,384.90) scale(1,1.2)">10</text>
<text x="0.00" y="0.00" font-family='"Liberation Serif", serif' font-size="6" font-weight="bold" font-style="normal" text-anchor="middle" fill="#000" stroke="#000" stroke-width="0.18" transform="translate(155.52,384.90) scale(1,1.2)">5</text>
<text x="0.00" y="0.00" font-family='"Liberation Serif", serif' font-size="6" font-weight="bold" font-style="normal" text-anchor="middle" fill="#000" stroke="#000" stroke-width="0.18" transform="translate(166.49,384.90) scale(1,1.2)">2</text>
<text x="0.00" y="0.00" font-family='"Liberation Serif", serif' font-size="6" font-weight="bold" font-style="normal" text-anchor="middle" fill="#000" stroke="#000" stroke-width="0.18" transform="translate(177.46,384.90) scale(1,1.2)">1</text>
<text x="0.00" y="0.00" font-family='"Liberation Serif", serif' font-size="6" font-weight="bold" font-style="normal" text-anchor="middle" fill="#000" stroke="#000" stroke-width="0.18" transform="translate(195.45,384.90) scale(1,1.2)">10</text>
<text x="0.00" y="0.00" font-family='"Liberation Serif", serif' font-size="6" font-weight="bold" font-style="normal" text-anchor="middle" fill="#000" stroke="#000" stroke-width="0.18" transform="translate(206.42,384.90) scale(1,1.2)">5</text>
<text x="0.00" y="0.00" font-family='"Liberation Serif", serif' font-size="6" font-weight="bold" font-style="normal" text-anchor="middle" fill="#000" stroke="#000" stroke-width="0.18" transform="translate(217.39,384.90) scale(1,1.2)">2</text>
<text x="0.00" y="0.00" font-family='"Liberation Serif", serif' font-size="6" font-weight="bold" font-style="normal" text-anchor="middle" fill="#000" stroke="#000" stroke-width="0.18" transform="translate(228.36,384.90) scale(1,1.2)">1</text>
<text x="0.00" y="0.00" font-family='"Liberation Serif", serif' font-size="6" font-weight="bold" font-style="normal" text-anchor="middle" fill="#000" stroke="#000" stroke-width="0.18" transform="translate(246.35,384.90) scale(1,1.2)">10</text>
<text x="0.00" y="0.00" font-family='"Liberation Serif", serif' font-size="6" font-weight="bold" font-style="normal" text-anchor="middle" fill="#000" stroke="#000" stroke-width="0.18" transform="translate(257.32,384.90) scale(1,1.2)">5</text>
<text x="0.00" y="0.00" font-family='"Liberation Serif", serif' font-size="6" font-weight="bold" font-style="normal" text-anchor="middle" fill="#000" stroke="#000" stroke-width="0.18" transform="translate(268.29,384.90) scale(1,1.2)">2</text>
<text x="0.00" y="0.00" font-family='"Liberation Serif", serif' font-size="6" font-weight="bold" font-style="normal" text-anchor="middle" fill="#000" stroke="#000" stroke-width="0.18" transform="translate(279.26,384.90) scale(1,1.2)">1</text>
<text x="0.00" y="0.00" font-family='"Liberation Serif", serif' font-size="6" font-weight="bold" font-style="normal" text-anchor="middle" fill="#000" stroke="#000" stroke-width="0.18" transform="translate(297.25,384.90) scale(1,1.2)">10</text>
<text x="0.00" y="0.00" font-family='"Liberation Serif", serif' font-size="6" font-weight="bold" font-style="normal" text-anchor="middle" fill="#000" stroke="#000" stroke-width="0.18" transform="translate(308.22,384.90) scale(1,1.2)">5</text>
<text x="0.00" y="0.00" font-family='"Liberation Serif", serif' font-size="6" font-weight="bold" font-style="normal" text-anchor="middle" fill="#000" stroke="#000" stroke-width="0.18" transform="translate(319.19,384.90) scale(1,1.2)">2</text>
<text x="0.00" y="0.00" font-family='"Liberation Serif", serif' font-size="6" font-weight="bold" font-style="normal" text-anchor="middle" fill="#000" stroke="#000" stroke-width="0.18" transform="translate(330.16,384.90) scale(1,1.2)">1</text>
<line x1="41.50" y1="390.50" x2="75.91" y2="390.50" stroke="#4a4a4a" stroke-width="0.7"/>
<text x="0.00" y="0.00" font-family='"Liberation Serif", serif' font-size="6.6" font-weight="normal" font-style="normal" text-anchor="middle" fill="#111" stroke="#111" stroke-width="0.12" transform="translate(58.90,398.30) scale(1,1.08)"><tspan font-style="italic">Ca</tspan> β-glucan</text>
<line x1="92.40" y1="390.50" x2="126.81" y2="390.50" stroke="#4a4a4a" stroke-width="0.7"/>
<text x="0.00" y="0.00" font-family='"Liberation Serif", serif' font-size="6.5" font-weight="normal" font-style="normal" text-anchor="middle" fill="#111" stroke="#111" stroke-width="0.12" transform="translate(109.51,398.30) scale(1,1.08)">ABB i24</text>
<line x1="143.30" y1="390.50" x2="177.71" y2="390.50" stroke="#4a4a4a" stroke-width="0.7"/>
<text x="0.00" y="0.00" font-family='"Liberation Serif", serif' font-size="6.5" font-weight="normal" font-style="normal" text-anchor="middle" fill="#111" stroke="#111" stroke-width="0.12" transform="translate(160.41,398.30) scale(1,1.08)">ABB i25</text>
<line x1="194.20" y1="390.50" x2="228.61" y2="390.50" stroke="#4a4a4a" stroke-width="0.7"/>
<text x="0.00" y="0.00" font-family='"Liberation Serif", serif' font-size="6.5" font-weight="normal" font-style="normal" text-anchor="middle" fill="#111" stroke="#111" stroke-width="0.12" transform="translate(211.30,398.30) scale(1,1.08)">ABB i16</text>
<line x1="245.10" y1="390.50" x2="279.51" y2="390.50" stroke="#4a4a4a" stroke-width="0.7"/>
<text x="0.00" y="0.00" font-family='"Liberation Serif", serif' font-size="6.5" font-weight="normal" font-style="normal" text-anchor="middle" fill="#111" stroke="#111" stroke-width="0.12" transform="translate(262.20,398.30) scale(1,1.08)">ABB i29</text>
<line x1="296.00" y1="390.50" x2="330.41" y2="390.50" stroke="#4a4a4a" stroke-width="0.7"/>
<text x="0.00" y="0.00" font-family='"Liberation Serif", serif' font-size="6.5" font-weight="normal" font-style="normal" text-anchor="middle" fill="#111" stroke="#111" stroke-width="0.12" transform="translate(313.11,398.30) scale(1,1.08)">CC1</text>
<text x="0.00" y="0.00" font-family='"Liberation Serif", serif' font-size="6.8" font-weight="normal" font-style="normal" text-anchor="start" fill="#111" stroke="#111" stroke-width="0.2" transform="translate(341.20,376.90) scale(1,1.15)">μg/mL</text>
<text x="0.00" y="0.00" font-family='"Liberation Serif", serif' font-size="6.6" font-weight="bold" font-style="normal" text-anchor="middle" fill="#111" stroke="#111" stroke-width="0.06" transform="translate(6.4,321.4) rotate(-90)">Fold change</text>
<text x="0.00" y="0.00" font-family='"Liberation Serif", serif' font-size="8.2" font-weight="bold" font-style="normal" text-anchor="middle" fill="#111" stroke="#111" stroke-width="0.22" transform="translate(195.30,206.50) scale(1,1.1)">TNF</text>
<text x="0.00" y="0.00" font-family='"Liberation Serif", serif' font-size="8.3" font-weight="normal" font-style="normal" text-anchor="middle" fill="#111" stroke="#111" stroke-width="0.2" transform="translate(195.30,216.20) scale(1,1.12)">LPS restimulated</text>
<text x="4.00" y="226.00" font-family='"Liberation Sans", sans-serif' font-size="7.3" font-weight="bold" font-style="normal" text-anchor="start" fill="#111" stroke="#111" stroke-width="0.1" >B</text>
<line x1="98.50" y1="231.40" x2="196.20" y2="231.40" stroke="#666666" stroke-width="0.9"/>
<line x1="98.50" y1="229.40" x2="98.50" y2="233.40" stroke="#666666" stroke-width="0.8"/>
<line x1="196.20" y1="229.40" x2="196.20" y2="233.40" stroke="#666666" stroke-width="0.8"/>
<line x1="146.40" y1="238.50" x2="196.20" y2="238.50" stroke="#666666" stroke-width="0.9"/>
<line x1="146.40" y1="236.50" x2="146.40" y2="240.50" stroke="#666666" stroke-width="0.8"/>
<line x1="196.20" y1="236.50" x2="196.20" y2="240.50" stroke="#666666" stroke-width="0.8"/>
<line x1="120.50" y1="257.50" x2="218.10" y2="257.50" stroke="#666666" stroke-width="0.9"/>
<line x1="120.50" y1="255.50" x2="120.50" y2="259.50" stroke="#666666" stroke-width="0.8"/>
<line x1="218.10" y1="255.50" x2="218.10" y2="259.50" stroke="#666666" stroke-width="0.8"/>
<line x1="167.80" y1="264.50" x2="218.10" y2="264.50" stroke="#666666" stroke-width="0.9"/>
<line x1="167.80" y1="262.50" x2="167.80" y2="266.50" stroke="#666666" stroke-width="0.8"/>
<line x1="218.10" y1="262.50" x2="218.10" y2="266.50" stroke="#666666" stroke-width="0.8"/>
<text x="147.50" y="228.40" font-family='"Liberation Serif", serif' font-size="6.4" font-weight="normal" font-style="normal" text-anchor="middle" fill="#222" stroke="#222" stroke-width="0.12" >#</text>
<text x="171.00" y="254.50" font-family='"Liberation Serif", serif' font-size="6.4" font-weight="normal" font-style="normal" text-anchor="middle" fill="#222" stroke="#222" stroke-width="0.12" >#</text>
<text x="195.50" y="275.20" font-family='"Liberation Serif", serif' font-size="5.5" font-weight="bold" font-style="normal" text-anchor="middle" fill="#111" >**</text>
<text x="206.40" y="325.90" font-family='"Liberation Serif", serif' font-size="5.5" font-weight="bold" font-style="normal" text-anchor="middle" fill="#111" >*</text>
<text x="217.40" y="310.20" font-family='"Liberation Serif", serif' font-size="5.5" font-weight="bold" font-style="normal" text-anchor="middle" fill="#111" >**</text>
<text x="228.30" y="308.20" font-family='"Liberation Serif", serif' font-size="5.5" font-weight="bold" font-style="normal" text-anchor="middle" fill="#111" >**</text>
</svg></div></body></html>
